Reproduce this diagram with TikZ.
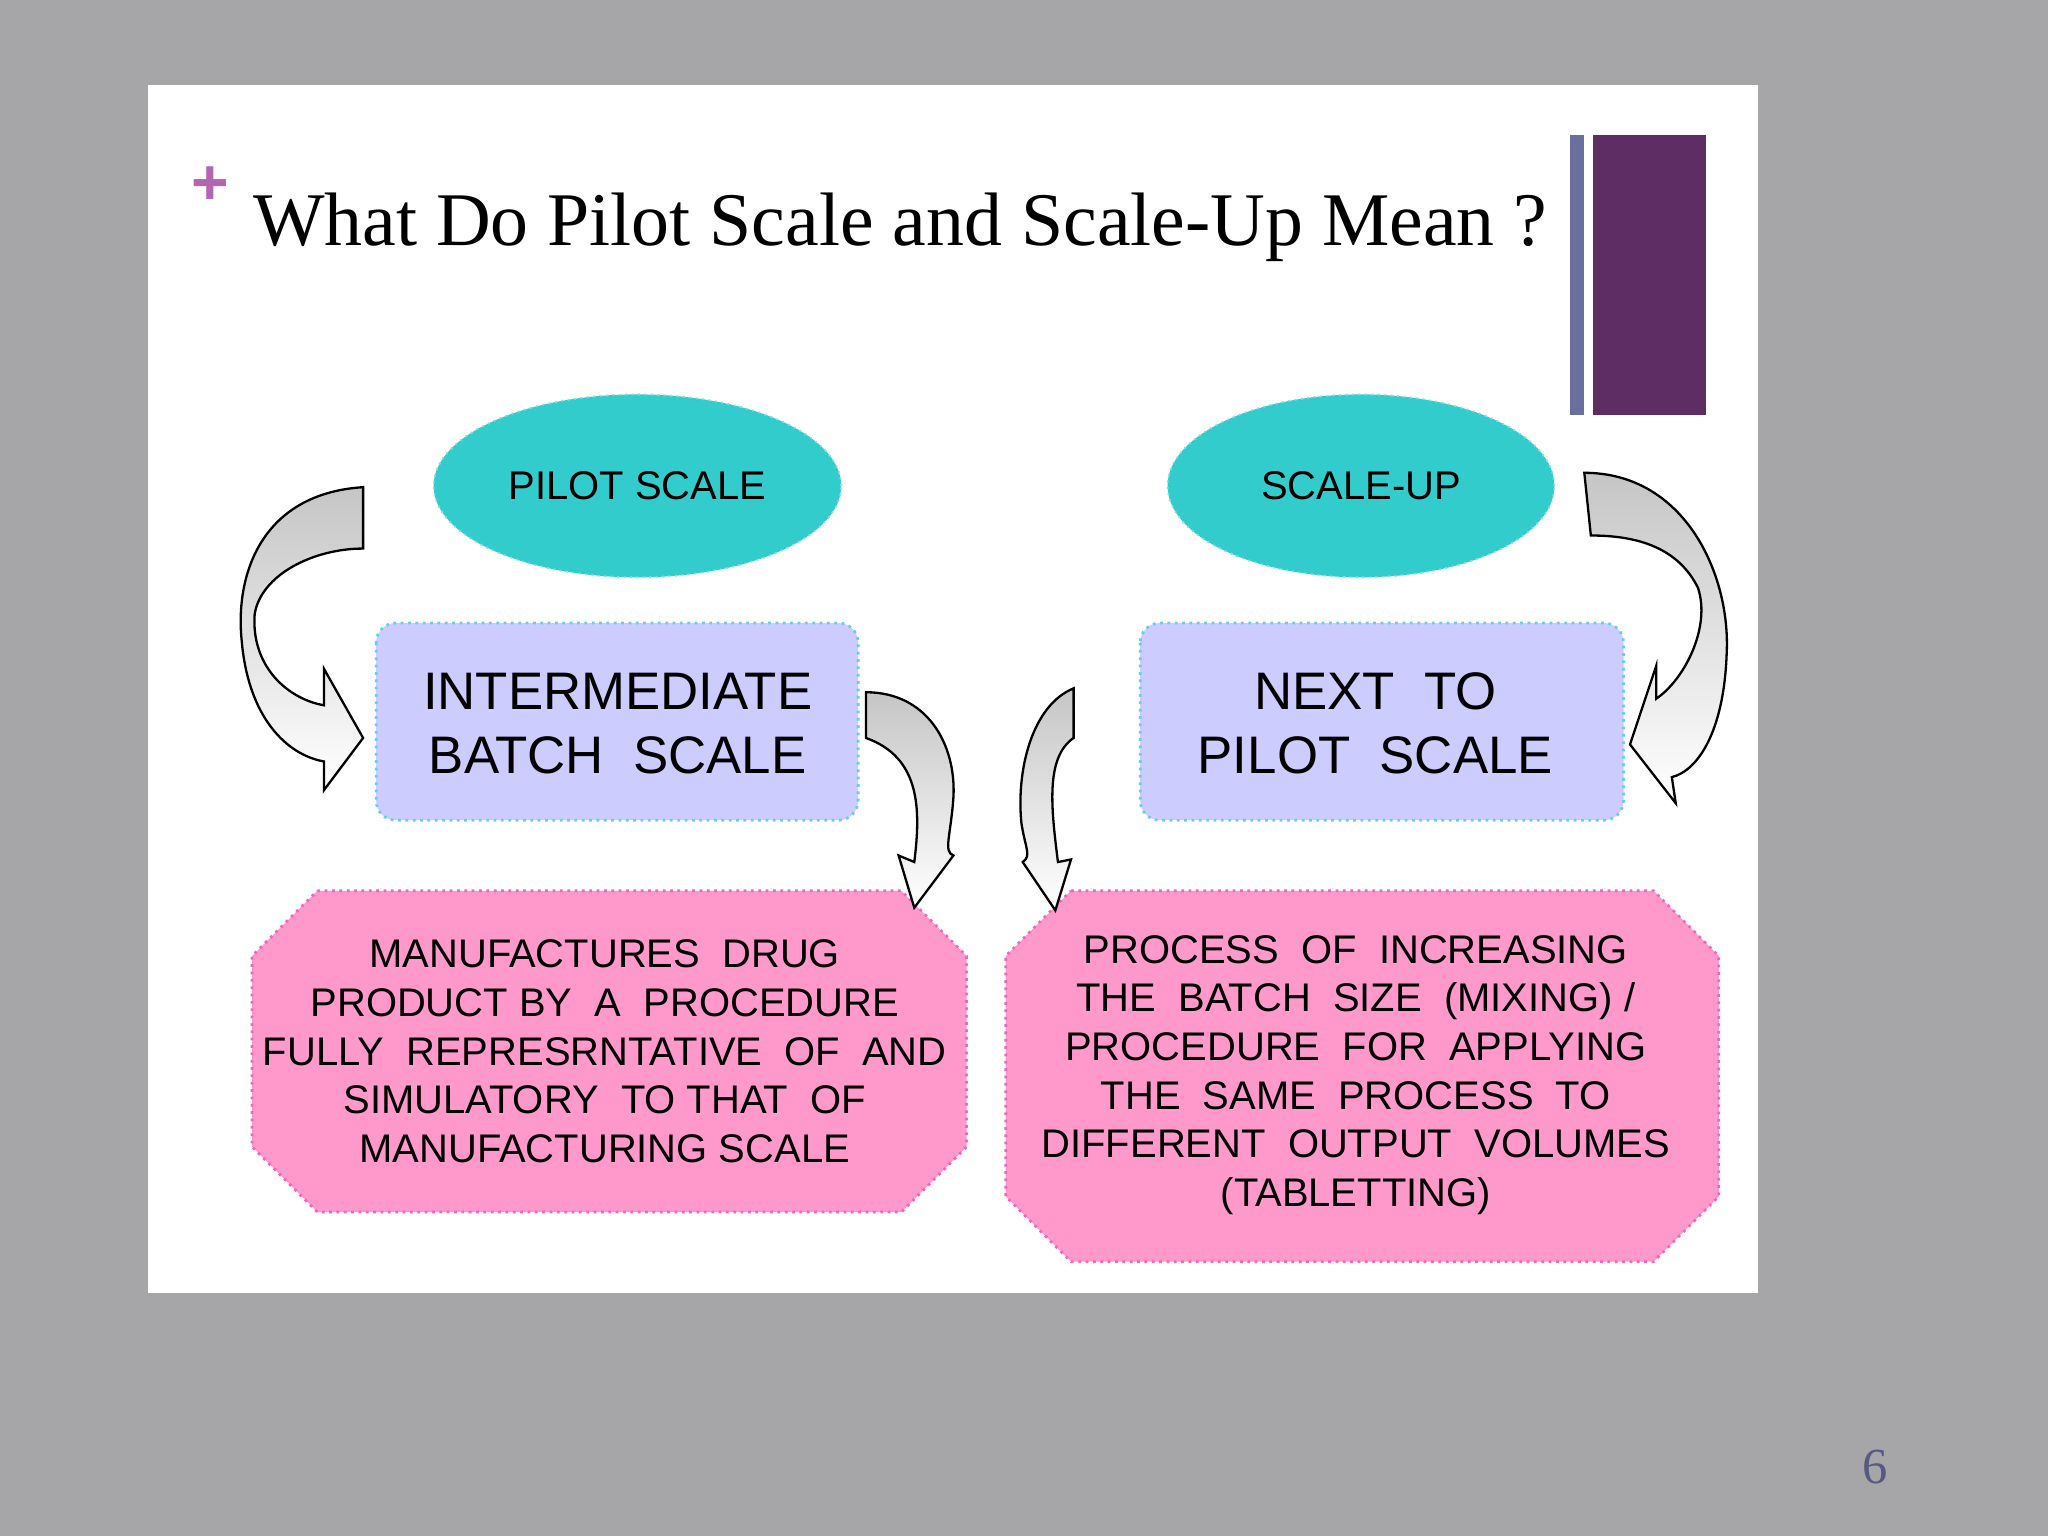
\documentclass[tikz,border=0pt]{standalone}
\usepackage{fontspec}
\setmainfont{Liberation Serif}
\newfontfamily\arial{Liberation Sans}
\usetikzlibrary{shapes.geometric}
\definecolor{bg}{HTML}{A6A6A8}
\definecolor{teal1}{HTML}{33CCCC}
\definecolor{lav}{HTML}{CCCCFF}
\definecolor{pinkb}{HTML}{FF99CC}
\definecolor{barblue}{HTML}{6B6FA0}
\definecolor{barpurp}{HTML}{5E2D63}
\tikzset{
 lbl/.style={font=\arial\fontsize{8.7pt}{10.6pt}\selectfont, align=center, text=black},
 oval/.style={ellipse, fill=teal1, draw=teal1!60!white, densely dotted, minimum width=2.96cm, minimum height=1.4cm},
 rbox/.style={rounded corners=0.15cm, fill=lav, draw=cyan!60, densely dotted, line width=0.6pt},
 octa/.style={fill=pinkb, draw=magenta!60, densely dotted, line width=0.6pt},
 carrow/.style={draw=black, line width=0.5pt, top color=gray!45, bottom color=white, shading angle=0},
}
\begin{document}
\begin{tikzpicture}[x=0.01cm,y=-0.01cm]
\fill[bg] (0,0) rectangle (1568,1176);
\fill[white] (113,65) rectangle (1346,990);
% plus
\node[text=violet!60, font=\arial\bfseries\fontsize{14pt}{14pt}\selectfont] (plus) at (161,142) {+};
\node[anchor=base west, font=\fontsize{16.5pt}{18pt}\selectfont, inner sep=0] (title) at (193,188) {What Do Pilot Scale and Scale-Up Mean ?};
\fill[barblue] (1202,103) rectangle (1213,318);
\fill[barpurp] (1220,103) rectangle (1306,318);
% ovals
\node[oval, lbl] (ps) at (488,372) {PILOT SCALE};
\node[oval, lbl] (su) at (1042,372) {SCALE-UP};
% rounded boxes
\draw[rbox] (288,477) rectangle (657,628);
\node[lbl, font=\arial\fontsize{11.5pt}{14pt}\selectfont] (ib) at (473,554) {INTERMEDIATE\\BATCH\ \ SCALE};
\draw[rbox] (873,477) rectangle (1243,628);
\node[lbl, font=\arial\fontsize{11.5pt}{14pt}\selectfont] (np) at (1053,554) {NEXT\ \ TO\\PILOT\ \ SCALE};
% octagons
\draw[octa] (243,682) -- (690,682) -- (740,732) -- (740,878) -- (690,928) -- (243,928) -- (193,878) -- (193,732) -- cycle;
\node[lbl] (mf) at (463,805) {MANUFACTURES\ \ DRUG\\PRODUCT BY\ \ A\ \ PROCEDURE\\FULLY\ \ REPRESRNTATIVE\ \ OF\ \ AND\\SIMULATORY\ \ TO THAT\ \ OF\\MANUFACTURING SCALE};
\draw[octa] (820,682) -- (1266,682) -- (1316,732) -- (1316,916) -- (1266,966) -- (820,966) -- (770,916) -- (770,732) -- cycle;
\node[lbl] (pr) at (1038,823) {PROCESS\ \ OF\ \ INCREASING\\THE\ \ BATCH\ \ SIZE\ \ (MIXING) /\\PROCEDURE\ \ FOR\ \ APPLYING\\THE\ \ SAME\ \ PROCESS\ \ TO\\DIFFERENT\ \ OUTPUT\ \ VOLUMES\\(TABLETTING)};
% curved arrows
\draw[carrow] (278,373) .. controls (200,378) and (180,440) .. (185,490)
  .. controls (190,550) and (220,578) .. (248,583) -- (248,605) -- (278,565) -- (248,512) -- (248,540)
  .. controls (220,535) and (192,510) .. (195,470) .. controls (200,440) and (240,420) .. (278,420) -- cycle;
\draw[carrow] (663,530) .. controls (710,530) and (732,570) .. (730,610)
  .. controls (728,640) and (722,652) .. (730,655) -- (700,695) -- (688,655) -- (700,660)
  .. controls (705,620) and (705,580) .. (663,565) -- cycle;
\draw[carrow] (822,527) .. controls (790,540) and (778,590) .. (782,630)
  .. controls (785,650) and (790,655) .. (783,660) -- (808,697) -- (820,658) -- (810,660)
  .. controls (805,620) and (800,580) .. (822,565) -- cycle;
\draw[carrow] (1213,362) .. controls (1290,362) and (1325,440) .. (1322,500)
  .. controls (1320,560) and (1300,590) .. (1280,595) -- (1283,615) -- (1248,570) -- (1268,510) -- (1268,535)
  .. controls (1290,520) and (1310,480) .. (1300,450) .. controls (1285,420) and (1255,410) .. (1218,410) -- cycle;
\node[text=barblue!80!black, font=\fontsize{11pt}{12pt}\selectfont] (pg) at (1436,1123) {6};
\end{tikzpicture}
\end{document}
